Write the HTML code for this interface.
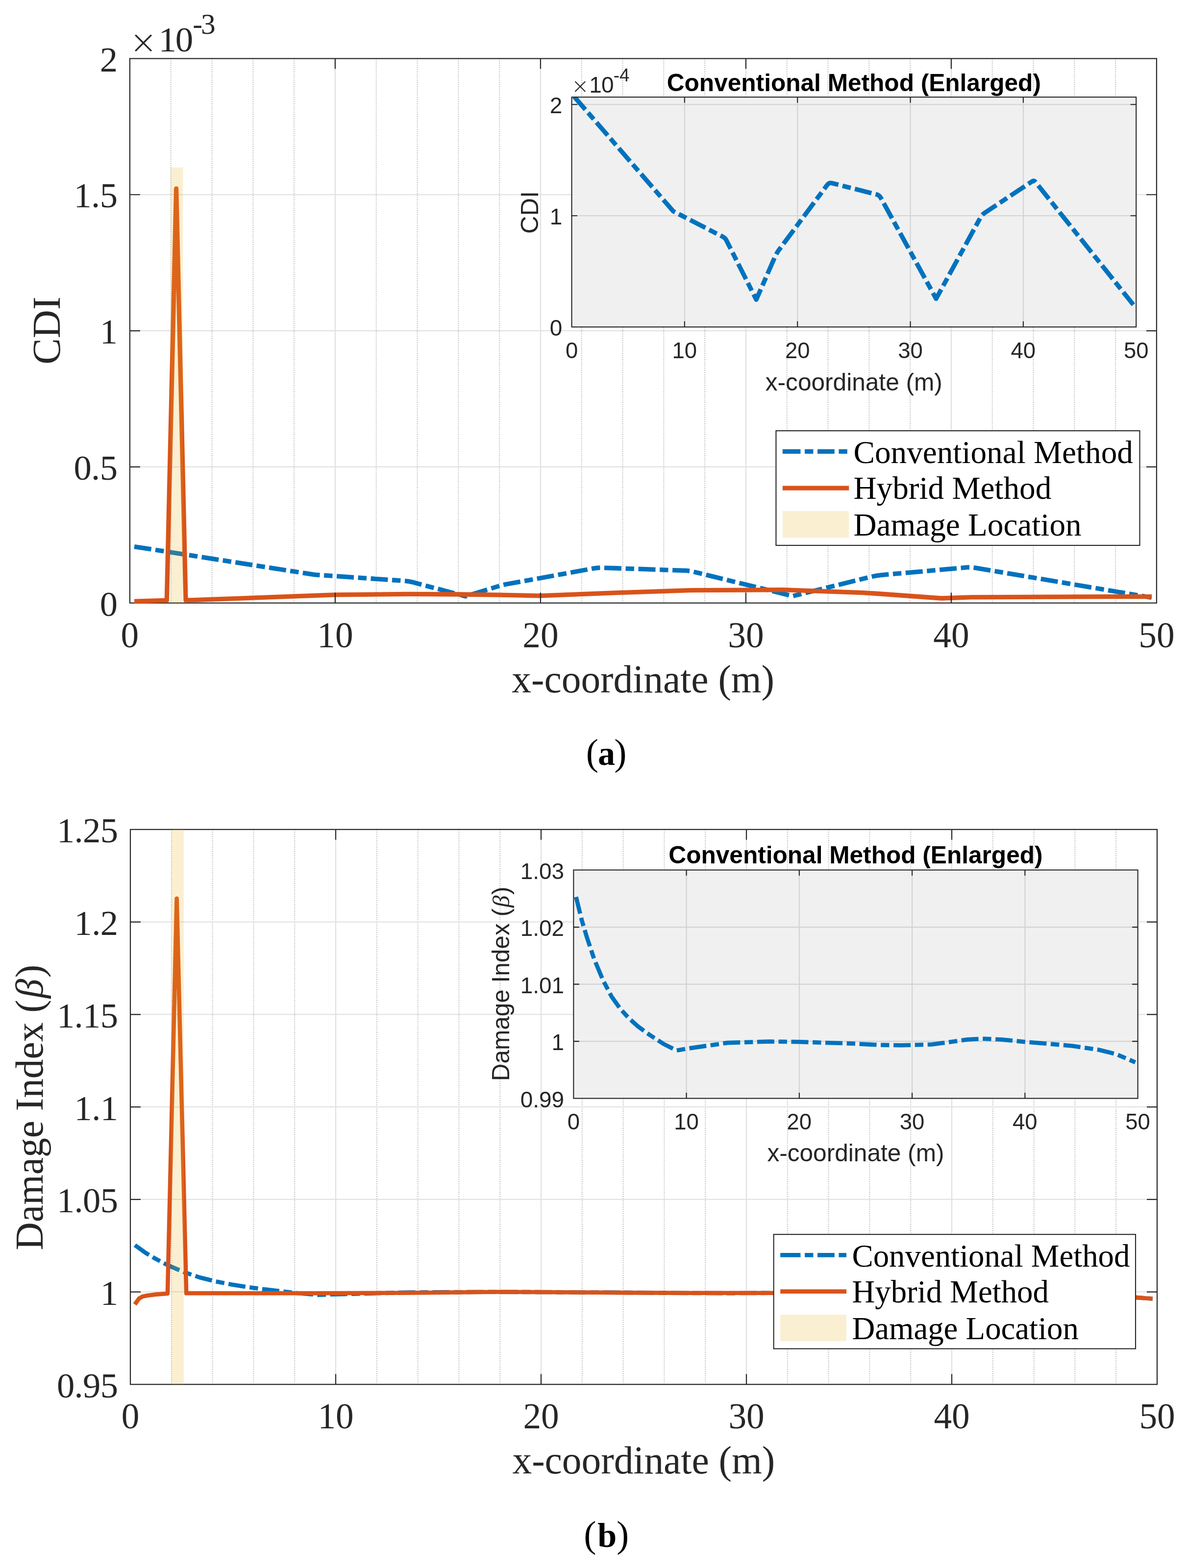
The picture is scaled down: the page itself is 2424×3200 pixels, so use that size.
<!DOCTYPE html>
<html lang="en"><head><meta charset="utf-8"><title>CDI and Damage Index comparison</title>
<style>html,body{margin:0;padding:0;background:#fff}svg{display:block}text{white-space:pre}</style></head><body>
<svg width="2424" height="3200" viewBox="0 0 2424 3200">
<rect width="2424" height="3200" fill="#fff"/>
<g id="axA">
<path d="M348.7 119.5V1230.6M432.5 119.5V1230.6M516.3 119.5V1230.6M600.1 119.5V1230.6M767.7 119.5V1230.6M851.5 119.5V1230.6M935.3 119.5V1230.6M1019.1 119.5V1230.6M1186.7 119.5V1230.6M1270.5 119.5V1230.6M1354.3 119.5V1230.6M1438.1 119.5V1230.6M1605.7 119.5V1230.6M1689.5 119.5V1230.6M1773.3 119.5V1230.6M1857.1 119.5V1230.6M2024.7 119.5V1230.6M2108.5 119.5V1230.6M2192.3 119.5V1230.6M2276.1 119.5V1230.6" stroke="#C4C4C4" stroke-width="2.1" stroke-dasharray="2.1 2.25" fill="none"/>
<path d="M683.9 119.5V1230.6M1102.9 119.5V1230.6M1521.9 119.5V1230.6M1940.9 119.5V1230.6M264.9 952.82H2359.9M264.9 675.05H2359.9M264.9 397.27H2359.9" stroke="#DFDFDF" stroke-width="2.1" fill="none"/>
<rect x="264.9" y="119.5" width="2095" height="1111.1" fill="none" stroke="#262626" stroke-width="2.2"/>
<path d="M273.99 1115.55L642 1172.82L826.76 1185.6Q834.74 1186.16 842.47 1188.22L949.97 1216.93L1017.74 1196.07Q1025.38 1193.71 1033.26 1192.28L1210.38 1160.16Q1220.22 1158.38 1230.21 1158.72L1396.68 1164.42Q1406.68 1164.77 1416.39 1167.15L1617.43 1216.49L1778.26 1176.88Q1787.97 1174.49 1797.93 1173.6L1972.74 1157.98Q1980.7 1157.27 1988.59 1158.6L2349.43 1219.49" fill="none" stroke="#0072BD" stroke-width="9.3" stroke-dasharray="35 8.6 17.4 8.6" stroke-linejoin="round"/>
<polyline points="274.1,1227.2 340.3,1225.2 359.6,385 379,1225.2 683.6,1213.8 834.6,1212.4 939,1213 1019.5,1214.1 1101.6,1215.9 1260,1209.7 1409,1204.6 1597,1203.7 1760,1209.7 1790,1211.5 1921,1221 1980.8,1218.9 2260,1217.7 2350.2,1217.6" fill="none" stroke="#D95319" stroke-width="9.3" stroke-linejoin="round"/>
<rect x="348.2" y="341.72" width="25.04" height="888.88" fill="#EDB120" fill-opacity="0.2"/>
<path d="M683.9 1230.6v-21 M683.9 119.5v21M1102.9 1230.6v-21 M1102.9 119.5v21M1521.9 1230.6v-21 M1521.9 119.5v21M1940.9 1230.6v-21 M1940.9 119.5v21M264.9 952.82h21 M2359.9 952.82h-21M264.9 675.05h21 M2359.9 675.05h-21M264.9 397.27h21 M2359.9 397.27h-21" stroke="#262626" stroke-width="2.2" fill="none"/>
<text x="239.3" y="1256.7" font-family="'Liberation Serif', serif" font-size="72.5" fill="#262626" text-anchor="end" letter-spacing="-0.6">0</text>
<text x="239.3" y="978.92" font-family="'Liberation Serif', serif" font-size="72.5" fill="#262626" text-anchor="end" letter-spacing="-0.6">0.5</text>
<text x="239.3" y="701.15" font-family="'Liberation Serif', serif" font-size="72.5" fill="#262626" text-anchor="end" letter-spacing="-0.6">1</text>
<text x="239.3" y="423.37" font-family="'Liberation Serif', serif" font-size="72.5" fill="#262626" text-anchor="end" letter-spacing="-0.6">1.5</text>
<text x="239.3" y="145.6" font-family="'Liberation Serif', serif" font-size="72.5" fill="#262626" text-anchor="end" letter-spacing="-0.6">2</text>
<text x="264.9" y="1320.6" font-family="'Liberation Serif', serif" font-size="73.2" fill="#262626" text-anchor="middle">0</text>
<text x="683.9" y="1320.6" font-family="'Liberation Serif', serif" font-size="73.2" fill="#262626" text-anchor="middle">10</text>
<text x="1102.9" y="1320.6" font-family="'Liberation Serif', serif" font-size="73.2" fill="#262626" text-anchor="middle">20</text>
<text x="1521.9" y="1320.6" font-family="'Liberation Serif', serif" font-size="73.2" fill="#262626" text-anchor="middle">30</text>
<text x="1940.9" y="1320.6" font-family="'Liberation Serif', serif" font-size="73.2" fill="#262626" text-anchor="middle">40</text>
<text x="2359.9" y="1320.6" font-family="'Liberation Serif', serif" font-size="73.2" fill="#262626" text-anchor="middle">50</text>
</g>
<text font-family="'Liberation Serif', serif" font-size="72.9" fill="#262626"><tspan x="292.5" y="108.5" font-family="'DejaVu Sans Light', 'DejaVu Sans', sans-serif" font-weight="200" font-size="67.5" text-anchor="middle">×</tspan><tspan x="323.4" y="104.7" letter-spacing="-2">10</tspan><tspan x="393.2" y="69.3" font-size="59.5" letter-spacing="-3">-3</tspan></text>
<text x="121.7" y="674.7" font-family="'Liberation Serif', serif" font-size="80.2" fill="#262626" text-anchor="middle" transform="rotate(-90 121.7 674.7)">CDI</text>
<text x="1312.2" y="1412.8" font-family="'Liberation Serif', serif" font-size="79.4" fill="#262626" text-anchor="middle">x-coordinate (m)</text>
<g id="insA">
<rect x="1166.5" y="198.2" width="1151.7" height="469.1" fill="#F0F0F0"/>
<path d="M1396.84 198.2V667.3M1627.18 198.2V667.3M1857.52 198.2V667.3M2087.86 198.2V667.3M1166.5 440.3H2318.2M1166.5 213.3H2318.2" stroke="#D2D2D2" stroke-width="2.1" fill="none"/>
<clipPath id="insAclip"><rect x="1166.5" y="197.2" width="1151.7" height="470.1"/></clipPath>
<path clip-path="url(#insAclip)" d="M1171.5 197.18L1373.81 431.22L1474.43 482.96Q1479.76 485.7 1482.46 491.06L1543.11 611.46L1580.96 524.82Q1584.57 516.57 1589.93 509.34L1688.1 377.02Q1691.68 372.2 1697.49 373.68L1788.36 396.82Q1794.18 398.3 1797.06 403.57L1910.04 609.64L2000.43 444.17Q2003.79 438.03 2009.62 434.16L2105.58 370.43Q2109.74 367.66 2112.86 371.57L2312.44 621.9" fill="none" stroke="#0072BD" stroke-width="9.3" stroke-dasharray="35 8.6 17.4 8.6" stroke-linejoin="round"/>
<path d="M1396.84 667.3v-11.5 M1396.84 198.2v11.5M1627.18 667.3v-11.5 M1627.18 198.2v11.5M1857.52 667.3v-11.5 M1857.52 198.2v11.5M2087.86 667.3v-11.5 M2087.86 198.2v11.5M1166.5 440.3h11.5 M2318.2 440.3h-11.5M1166.5 213.3h11.5 M2318.2 213.3h-11.5" stroke="#262626" stroke-width="2.1" fill="none"/>
<rect x="1166.5" y="198.2" width="1151.7" height="469.1" fill="none" stroke="#262626" stroke-width="2.1"/>
<text x="1147.2" y="685.2" font-family="'Liberation Sans', sans-serif" font-size="45.8" fill="#262626" text-anchor="end">0</text>
<text x="1147.2" y="458.2" font-family="'Liberation Sans', sans-serif" font-size="45.8" fill="#262626" text-anchor="end">1</text>
<text x="1147.2" y="231.2" font-family="'Liberation Sans', sans-serif" font-size="45.8" fill="#262626" text-anchor="end">2</text>
<text x="1166.5" y="730.8" font-family="'Liberation Sans', sans-serif" font-size="45.4" fill="#262626" text-anchor="middle">0</text>
<text x="1396.84" y="730.8" font-family="'Liberation Sans', sans-serif" font-size="45.4" fill="#262626" text-anchor="middle">10</text>
<text x="1627.18" y="730.8" font-family="'Liberation Sans', sans-serif" font-size="45.4" fill="#262626" text-anchor="middle">20</text>
<text x="1857.52" y="730.8" font-family="'Liberation Sans', sans-serif" font-size="45.4" fill="#262626" text-anchor="middle">30</text>
<text x="2087.86" y="730.8" font-family="'Liberation Sans', sans-serif" font-size="45.4" fill="#262626" text-anchor="middle">40</text>
<text x="2318.2" y="730.8" font-family="'Liberation Sans', sans-serif" font-size="45.4" fill="#262626" text-anchor="middle">50</text>
<text x="1742.35" y="186.1" font-family="'Liberation Sans', sans-serif" font-size="49.6" fill="#000" text-anchor="middle" font-weight="bold">Conventional Method (Enlarged)</text>
<text x="1742.35" y="797.4" font-family="'Liberation Sans', sans-serif" font-size="49.6" fill="#262626" text-anchor="middle">x-coordinate (m)</text>
</g>
<text font-family="'Liberation Sans', sans-serif" font-size="45.9" fill="#262626"><tspan x="1183.8" y="189.7" font-family="'DejaVu Sans Light', 'DejaVu Sans', sans-serif" font-weight="200" font-size="43.2" text-anchor="middle">×</tspan><tspan x="1202.3" y="188.5" letter-spacing="-0.8">10</tspan><tspan x="1251.7" y="165.7" font-size="36.8" letter-spacing="0">-4</tspan></text>
<text x="1098.2" y="433.5" font-family="'Liberation Sans', sans-serif" font-size="50.4" fill="#262626" text-anchor="middle" transform="rotate(-90 1098.2 433.5)">CDI</text>
<g id="legA">
<rect x="1583.4" y="879.1" width="742.1" height="233.9" fill="#fff" stroke="#262626" stroke-width="2.1"/>
<path d="M1596.8 921.3H1729.2" stroke="#0072BD" stroke-width="9.2" stroke-dasharray="36.6 8.6 17.4 8.6 34.8 8.6 17.4 8.6" fill="none"/>
<path d="M1596.8 996.1H1732.2" stroke="#D95319" stroke-width="9.2" fill="none"/>
<rect x="1596.8" y="1043.1" width="135.4" height="54.5" fill="#EDB120" fill-opacity="0.2"/>
<text x="1741.5" y="945.1" font-family="'Liberation Serif', serif" font-size="65.2" fill="#000">Conventional Method</text>
<text x="1741.5" y="1018.1" font-family="'Liberation Serif', serif" font-size="65.2" fill="#000">Hybrid Method</text>
<text x="1741.5" y="1093.1" font-family="'Liberation Serif', serif" font-size="65.2" fill="#000">Damage Location</text>
</g>
<text font-family="'Liberation Serif', serif" font-size="70" fill="#000" text-anchor="middle"><tspan x="1208.4" y="1561.4" font-size="75.7">(</tspan><tspan x="1237.6" y="1561.4" font-weight="bold">a</tspan><tspan x="1265.9" y="1561.4" font-size="75.7">)</tspan></text>
<g id="axB">
<path d="M349.8 1692.8V2825.3M433.6 1692.8V2825.3M517.4 1692.8V2825.3M601.2 1692.8V2825.3M768.8 1692.8V2825.3M852.6 1692.8V2825.3M936.4 1692.8V2825.3M1020.2 1692.8V2825.3M1187.8 1692.8V2825.3M1271.6 1692.8V2825.3M1355.4 1692.8V2825.3M1439.2 1692.8V2825.3M1606.8 1692.8V2825.3M1690.6 1692.8V2825.3M1774.4 1692.8V2825.3M1858.2 1692.8V2825.3M2025.8 1692.8V2825.3M2109.6 1692.8V2825.3M2193.4 1692.8V2825.3M2277.2 1692.8V2825.3" stroke="#C4C4C4" stroke-width="2.1" stroke-dasharray="2.1 2.25" fill="none"/>
<path d="M685 1692.8V2825.3M1104 1692.8V2825.3M1523 1692.8V2825.3M1942 1692.8V2825.3M266 2636.55H2361M266 2447.8H2361M266 2259.05H2361M266 2070.3H2361M266 1881.55H2361" stroke="#DFDFDF" stroke-width="2.1" fill="none"/>
<rect x="266" y="1692.8" width="2095" height="1132.5" fill="none" stroke="#262626" stroke-width="2.2"/>
<path d="M275.22 2541.12L296.59 2556.52L316.28 2568.22L342.26 2582.08L374.94 2596.01L407.41 2607.03L439.88 2615.15L472.57 2621.53L505.25 2626.74L537.93 2631.04L570.19 2634.85L602.88 2638.55L648.55 2642.63L685 2641.46L837.52 2637.53L993.8 2636.7L1104 2636.93L1303.86 2638.06L1400.65 2638.97L1485.29 2639.19L1595.91 2638.63L1667.56 2636.93L1726.21 2635.42L1784.88 2634.81L1856.52 2635.42L1941.16 2636.93L2019.52 2638.06L2117.14 2639.57L2214.35 2642.1L2280.13 2645.01L2351.78 2650.44" fill="none" stroke="#0072BD" stroke-width="8.6" stroke-dasharray="35 8.6 17.4 8.6" stroke-linejoin="round"/>
<polyline points="275.1,2662 283.7,2650 290.9,2645.9 301.6,2643.7 315.9,2641.9 337.4,2640.2 341.9,2640 360.6,1833.9 380.2,2639.3 475.5,2639.19 643.1,2639.19 837.52,2638.44 1020.2,2636.55 1259.03,2638.06 1409.87,2638.82 1594.23,2638.63 1667.56,2636.93 1726.21,2635.42 1784.88,2634.81 1856.52,2635.42 1941.16,2636.93 2019.52,2638.06 2117.14,2639.57 2214.35,2642.1 2280.13,2645.01 2351.78,2650.44" fill="none" stroke="#D95319" stroke-width="8.6" stroke-linejoin="round"/>
<rect x="349.8" y="1692.8" width="25.14" height="1132.5" fill="#EDB120" fill-opacity="0.2"/>
<path d="M685 2825.3v-21 M685 1692.8v21M1104 2825.3v-21 M1104 1692.8v21M1523 2825.3v-21 M1523 1692.8v21M1942 2825.3v-21 M1942 1692.8v21M266 2636.55h21 M2361 2636.55h-21M266 2447.8h21 M2361 2447.8h-21M266 2259.05h21 M2361 2259.05h-21M266 2070.3h21 M2361 2070.3h-21M266 1881.55h21 M2361 1881.55h-21" stroke="#262626" stroke-width="2.2" fill="none"/>
<text x="240.4" y="2851.9" font-family="'Liberation Serif', serif" font-size="72.5" fill="#262626" text-anchor="end" letter-spacing="-0.6">0.95</text>
<text x="240.4" y="2663.15" font-family="'Liberation Serif', serif" font-size="72.5" fill="#262626" text-anchor="end" letter-spacing="-0.6">1</text>
<text x="240.4" y="2474.4" font-family="'Liberation Serif', serif" font-size="72.5" fill="#262626" text-anchor="end" letter-spacing="-0.6">1.05</text>
<text x="240.4" y="2285.65" font-family="'Liberation Serif', serif" font-size="72.5" fill="#262626" text-anchor="end" letter-spacing="-0.6">1.1</text>
<text x="240.4" y="2096.9" font-family="'Liberation Serif', serif" font-size="72.5" fill="#262626" text-anchor="end" letter-spacing="-0.6">1.15</text>
<text x="240.4" y="1908.15" font-family="'Liberation Serif', serif" font-size="72.5" fill="#262626" text-anchor="end" letter-spacing="-0.6">1.2</text>
<text x="240.4" y="1719.4" font-family="'Liberation Serif', serif" font-size="72.5" fill="#262626" text-anchor="end" letter-spacing="-0.6">1.25</text>
<text x="266" y="2915.3" font-family="'Liberation Serif', serif" font-size="73.2" fill="#262626" text-anchor="middle">0</text>
<text x="685" y="2915.3" font-family="'Liberation Serif', serif" font-size="73.2" fill="#262626" text-anchor="middle">10</text>
<text x="1104" y="2915.3" font-family="'Liberation Serif', serif" font-size="73.2" fill="#262626" text-anchor="middle">20</text>
<text x="1523" y="2915.3" font-family="'Liberation Serif', serif" font-size="73.2" fill="#262626" text-anchor="middle">30</text>
<text x="1942" y="2915.3" font-family="'Liberation Serif', serif" font-size="73.2" fill="#262626" text-anchor="middle">40</text>
<text x="2361" y="2915.3" font-family="'Liberation Serif', serif" font-size="73.2" fill="#262626" text-anchor="middle">50</text>
</g>
<text x="87" y="2551.6" font-family="'Liberation Serif', serif" font-size="79.4" fill="#262626" transform="rotate(-90 87 2551.6)">Damage Index (<tspan font-style="italic" dx="3">β</tspan><tspan dx="2.5">)</tspan></text>
<text x="1313.3" y="3007" font-family="'Liberation Serif', serif" font-size="79.4" fill="#262626" text-anchor="middle">x-coordinate (m)</text>
<g id="insB">
<rect x="1170.3" y="1775.5" width="1151.3" height="466.1" fill="#F0F0F0"/>
<path d="M1400.56 1775.5V2241.6M1630.82 1775.5V2241.6M1861.08 1775.5V2241.6M2091.34 1775.5V2241.6M1170.3 2125.1H2321.6M1170.3 2008.6H2321.6M1170.3 1892.1H2321.6" stroke="#D2D2D2" stroke-width="2.1" fill="none"/>
<clipPath id="insBclip"><rect x="1170.3" y="1774.5" width="1151.3" height="467.1"/></clipPath>
<path clip-path="url(#insBclip)" d="M1175.37 1830.59L1187.11 1878.12L1197.93 1914.23L1212.21 1956.99L1230.17 1999.98L1248.01 2034L1265.86 2059.04L1283.82 2078.73L1301.78 2094.81L1319.74 2108.09L1337.47 2119.86L1355.43 2131.27L1380.53 2143.86L1400.56 2140.24L1484.37 2128.13L1570.26 2125.57L1630.82 2126.26L1740.65 2129.76L1793.84 2132.56L1840.36 2133.26L1901.15 2131.51L1940.52 2126.26L1972.76 2121.61L2004.99 2119.74L2044.37 2121.61L2090.88 2126.26L2133.94 2129.76L2187.59 2134.42L2241.01 2142.23L2277.16 2151.2L2316.53 2167.97" fill="none" stroke="#0072BD" stroke-width="8.6" stroke-dasharray="35 8.6 17.4 8.6" stroke-linejoin="round"/>
<path d="M1400.56 2241.6v-11.5 M1400.56 1775.5v11.5M1630.82 2241.6v-11.5 M1630.82 1775.5v11.5M1861.08 2241.6v-11.5 M1861.08 1775.5v11.5M2091.34 2241.6v-11.5 M2091.34 1775.5v11.5M1170.3 2125.1h11.5 M2321.6 2125.1h-11.5M1170.3 2008.6h11.5 M2321.6 2008.6h-11.5M1170.3 1892.1h11.5 M2321.6 1892.1h-11.5" stroke="#262626" stroke-width="2.1" fill="none"/>
<rect x="1170.3" y="1775.5" width="1151.3" height="466.1" fill="none" stroke="#262626" stroke-width="2.1"/>
<text x="1151" y="2259.5" font-family="'Liberation Sans', sans-serif" font-size="45.8" fill="#262626" text-anchor="end">0.99</text>
<text x="1151" y="2143" font-family="'Liberation Sans', sans-serif" font-size="45.8" fill="#262626" text-anchor="end">1</text>
<text x="1151" y="2026.5" font-family="'Liberation Sans', sans-serif" font-size="45.8" fill="#262626" text-anchor="end">1.01</text>
<text x="1151" y="1910" font-family="'Liberation Sans', sans-serif" font-size="45.8" fill="#262626" text-anchor="end">1.02</text>
<text x="1151" y="1793.5" font-family="'Liberation Sans', sans-serif" font-size="45.8" fill="#262626" text-anchor="end">1.03</text>
<text x="1170.3" y="2305.1" font-family="'Liberation Sans', sans-serif" font-size="45.4" fill="#262626" text-anchor="middle">0</text>
<text x="1400.56" y="2305.1" font-family="'Liberation Sans', sans-serif" font-size="45.4" fill="#262626" text-anchor="middle">10</text>
<text x="1630.82" y="2305.1" font-family="'Liberation Sans', sans-serif" font-size="45.4" fill="#262626" text-anchor="middle">20</text>
<text x="1861.08" y="2305.1" font-family="'Liberation Sans', sans-serif" font-size="45.4" fill="#262626" text-anchor="middle">30</text>
<text x="2091.34" y="2305.1" font-family="'Liberation Sans', sans-serif" font-size="45.4" fill="#262626" text-anchor="middle">40</text>
<text x="2321.6" y="2305.1" font-family="'Liberation Sans', sans-serif" font-size="45.4" fill="#262626" text-anchor="middle">50</text>
<text x="1745.95" y="1762" font-family="'Liberation Sans', sans-serif" font-size="49.6" fill="#000" text-anchor="middle" font-weight="bold">Conventional Method (Enlarged)</text>
<text x="1745.95" y="2370.4" font-family="'Liberation Sans', sans-serif" font-size="49.6" fill="#262626" text-anchor="middle">x-coordinate (m)</text>
</g>
<text x="1039.4" y="2206.3" font-family="'Liberation Sans', sans-serif" font-size="49.5" fill="#262626" transform="rotate(-90 1039.4 2206.3)">Damage Index (<tspan font-style="italic" font-family="'Liberation Serif', serif" dx="2">β</tspan><tspan dx="1.5">)</tspan></text>
<g id="legB">
<rect x="1578.6" y="2519.2" width="738.4" height="233.3" fill="#fff" stroke="#262626" stroke-width="2.1"/>
<path d="M1592.2 2561.3H1727" stroke="#0072BD" stroke-width="8.7" stroke-dasharray="41.2 8.6 17.4 8.6 34.8 8.6 17.4 8.6" fill="none"/>
<path d="M1592.2 2635.7H1727" stroke="#D95319" stroke-width="8.7" fill="none"/>
<rect x="1592.2" y="2683" width="134.8" height="54" fill="#EDB120" fill-opacity="0.2"/>
<text x="1738.5" y="2584.7" font-family="'Liberation Serif', serif" font-size="64.8" fill="#000">Conventional Method</text>
<text x="1738.5" y="2657.7" font-family="'Liberation Serif', serif" font-size="64.8" fill="#000">Hybrid Method</text>
<text x="1738.5" y="2732.7" font-family="'Liberation Serif', serif" font-size="64.8" fill="#000">Damage Location</text>
</g>
<text font-family="'Liberation Serif', serif" font-size="70" fill="#000" text-anchor="middle"><tspan x="1203.8" y="3157.4" font-size="75.7">(</tspan><tspan x="1238.6" y="3157.4" font-weight="bold">b</tspan><tspan x="1270.5" y="3157.4" font-size="75.7">)</tspan></text>
</svg></body></html>
